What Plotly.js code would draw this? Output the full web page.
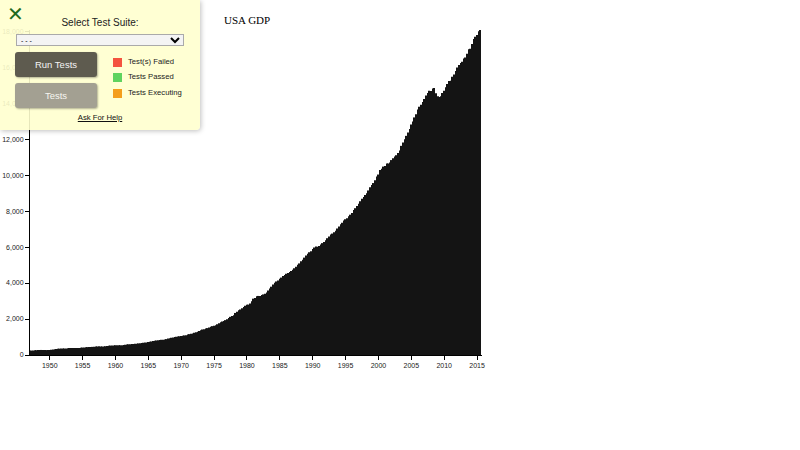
<!DOCTYPE html>
<html>
<head>
<meta charset="utf-8">
<script src="https://cdn.plot.ly/plotly-3.0.1.min.js"></script>
<style>
  html, body { margin: 0; padding: 0; background: #fff; width: 800px; height: 450px; overflow: hidden; }
  #chart { position: absolute; left: 0; top: 0; width: 800px; height: 450px; }
  #panel {
    position: absolute; left: 0; top: 0; width: 200px; height: 130px;
    background: rgba(255, 255, 206, 0.9);
    border-bottom-right-radius: 4px;
    box-shadow: 1px 1px 5px rgba(0,0,0,0.25);
    font-family: "Liberation Sans", Arial, sans-serif;
    color: #222;
  }
  #closeX { position: absolute; left: 7px; top: 4px; font-size: 20px; font-weight: bold; color: #1e6b1e; font-family: "DejaVu Sans", sans-serif; line-height: 20px; }
  #suiteLabel { position: absolute; left: 0; width: 200px; top: 17px; text-align: center; font-size: 10px; }
  #suite { position: absolute; left: 16px; top: 34px; width: 168px; height: 12px; font-size: 7px; padding: 0; border: 1px solid #aaa; background: #f4f4f4; }
  .btn { position: absolute; left: 15px; width: 82px; height: 25px; border-radius: 3px; text-align: center; line-height: 25px; font-size: 9.5px; box-shadow: 1px 1px 2px rgba(0,0,0,0.3); }
  #run { top: 52px; background: #5e5b4f; color: #f4f4f4; }
  #tests { top: 83px; background: #a3a092; color: #f6f6f0; }
  .leg { position: absolute; left: 113px; width: 9px; height: 9px; }
  .legt { position: absolute; left: 128px; font-size: 7.7px; line-height: 10px; }
  #help { position: absolute; left: 0; width: 200px; top: 113px; text-align: center; font-size: 7.7px; text-decoration: underline; color: #111; }
</style>
</head>
<body>
<div id="chart"></div>
<div id="panel">
  <div id="closeX">✕</div>
  <div id="suiteLabel">Select Test Suite:</div>
  <select id="suite"><option>- - -</option></select>
  <div class="btn" id="run">Run Tests</div>
  <div class="btn" id="tests">Tests</div>
  <div class="leg" style="top:58px;background:#f4533f;"></div><div class="legt" style="top:57px;">Test(s) Failed</div>
  <div class="leg" style="top:73px;background:#5fd35f;"></div><div class="legt" style="top:72px;">Tests Passed</div>
  <div class="leg" style="top:89px;background:#f49e1c;"></div><div class="legt" style="top:88px;">Tests Executing</div>
  <div id="help">Ask For Help</div>
</div>
<script>
const startYear = 1947;
const gdpValues = [
  243.1, 246.3, 250.1, 260.3,
  266.2, 272.9, 279.5, 280.7,
  275.4, 271.7, 273.3, 271.0,
  281.2, 290.7, 308.5, 320.3,
  336.4, 344.5, 351.8, 356.6,
  360.2, 361.4, 368.1, 381.2,
  388.5, 392.3, 391.7, 386.5,
  385.9, 386.7, 391.6, 400.3,
  413.8, 422.2, 430.9, 437.8,
  440.5, 446.8, 452.0, 461.3,
  470.6, 472.8, 480.3, 475.7,
  468.4, 472.8, 486.7, 500.4,
  511.1, 524.2, 525.2, 529.3,
  543.3, 542.7, 546.0, 541.1,
  545.9, 557.4, 568.2, 581.6,
  595.2, 602.6, 609.6, 613.1,
  622.7, 631.8, 645.0, 654.8,
  671.1, 680.8, 692.8, 698.4,
  719.2, 732.4, 750.2, 773.1,
  797.3, 807.2, 820.8, 834.9,
  846.0, 851.1, 866.6, 883.2,
  911.1, 936.3, 952.3, 970.1,
  995.4, 1011.4, 1032.0, 1040.7,
  1053.5, 1070.1, 1088.5, 1091.5,
  1137.8, 1159.4, 1180.3, 1193.6,
  1233.8, 1270.1, 1293.8, 1332.0,
  1380.7, 1417.6, 1436.8, 1479.1,
  1494.7, 1534.2, 1563.4, 1603.0,
  1619.6, 1656.4, 1713.8, 1765.9,
  1824.5, 1856.9, 1890.5, 1938.4,
  1992.5, 2060.2, 2122.4, 2168.7,
  2208.7, 2336.6, 2398.9, 2482.2,
  2531.6, 2595.9, 2670.4, 2730.7,
  2796.5, 2799.9, 2860.0, 2993.5,
  3131.8, 3167.3, 3261.2, 3283.5,
  3273.8, 3331.3, 3367.1, 3407.8,
  3480.3, 3583.8, 3692.3, 3796.1,
  3912.8, 4015.0, 4087.4, 4147.6,
  4237.0, 4302.3, 4394.6, 4453.1,
  4516.3, 4555.2, 4619.6, 4669.4,
  4736.2, 4821.5, 4900.5, 5022.7,
  5090.6, 5207.7, 5299.5, 5412.7,
  5527.4, 5628.4, 5711.6, 5763.4,
  5890.8, 5974.7, 6029.5, 6023.3,
  6054.9, 6143.6, 6218.4, 6279.3,
  6380.8, 6492.3, 6586.5, 6697.6,
  6748.2, 6829.6, 6904.2, 7032.8,
  7136.3, 7269.8, 7352.3, 7476.7,
  7545.3, 7604.9, 7706.5, 7799.5,
  7893.1, 8061.5, 8159.0, 8287.1,
  8402.1, 8551.9, 8691.8, 8788.3,
  8889.7, 8994.7, 9146.5, 9325.7,
  9447.1, 9557.0, 9712.3, 9926.1,
  10031.0, 10278.3, 10357.4, 10472.3,
  10508.1, 10638.4, 10639.5, 10701.3,
  10834.4, 10934.8, 11037.1, 11103.8,
  11230.1, 11370.7, 11625.1, 11816.8,
  11988.4, 12181.4, 12367.7, 12562.2,
  12813.7, 12974.1, 13205.4, 13381.6,
  13648.9, 13799.8, 13908.5, 14066.4,
  14233.2, 14422.3, 14569.7, 14685.3,
  14668.4, 14813.0, 14843.0, 14549.9,
  14383.9, 14340.4, 14384.1, 14566.5,
  14681.1, 14888.6, 15057.7, 15230.2,
  15238.4, 15460.9, 15587.1, 15785.3,
  15973.9, 16121.9, 16227.9, 16297.3,
  16475.4, 16541.4, 16749.3, 16999.9,
  17025.2, 17285.6, 17569.4, 17692.2,
  17783.6, 17998.3, 18064.7
];
const quarterMonths = ['01', '04', '07', '10'];
const quarterDates = gdpValues.map((v, i) =>
  (startYear + Math.floor(i / 4)) + '-' + quarterMonths[i % 4] + '-01');
const chartTitle = 'USA GDP';

const trace = {
  type: 'bar',
  x: quarterDates,
  y: gdpValues,
  xperiod: 'M3',
  xperiodalignment: 'start',
  marker: { color: '#141414', line: { width: 0 } },
  hoverinfo: 'x+y'
};

const layout = {
  width: 800, height: 450,
  margin: { l: 30, r: 318, t: 30, b: 95, pad: 0 },
  paper_bgcolor: '#fff', plot_bgcolor: '#fff',
  bargap: 0.22,
  showlegend: false,
  title: {
    text: chartTitle,
    font: { family: '"Liberation Serif", "Times New Roman", serif', size: 11, color: '#000' },
    xref: 'container', yref: 'container',
    x: 224 / 800, xanchor: 'left',
    y: 1 - 20 / 450, yanchor: 'middle'
  },
  xaxis: {
    type: 'date',
    range: ['1947-01-01', '2015-10-01'],
    tick0: '1950-01-01', dtick: 'M60', tickformat: '%Y',
    showgrid: false, zeroline: false,
    showline: true, linecolor: '#000', linewidth: 1,
    ticks: 'outside', ticklen: 4, tickcolor: '#000', tickwidth: 1,
    tickfont: { family: '"Liberation Sans", Arial, sans-serif', size: 7, color: '#222' },
    fixedrange: true
  },
  yaxis: {
    range: [0, 18064.7],
    tick0: 0, dtick: 2000, tickformat: ',d',
    showgrid: false, zeroline: false,
    showline: true, linecolor: '#000', linewidth: 1,
    ticks: 'outside', ticklen: 4, tickcolor: '#000', tickwidth: 1,
    tickfont: { family: '"Liberation Sans", Arial, sans-serif', size: 7, color: '#222' },
    fixedrange: true
  }
};

Plotly.newPlot('chart', [trace], layout, { displayModeBar: false, staticPlot: false });
</script>
</body>
</html>
